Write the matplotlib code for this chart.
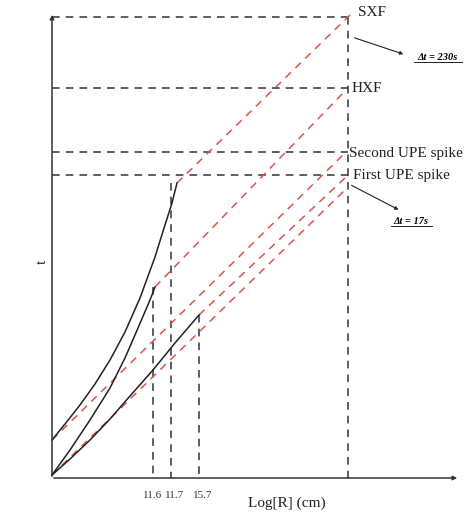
import matplotlib
matplotlib.use("Agg")
import matplotlib.pyplot as plt

plt.rcParams['font.family'] = ['Liberation Serif', 'DejaVu Serif']

# schematic coordinates (picture units)
origin = (52, 478)
x_end = 460
y_top = 12
right_x = 348

level_names = ["SXF", "HXF", "Second UPE spike", "First UPE spike"]
level_y = [17, 88, 152, 175]
level_label_pos = [(358, 12), (352, 88), (349, 153), (353, 176)]

tick_x = [153, 171, 199]
tick_top = [287, 183, 315]
tick_labels = ["11.6", "11.7", "15.7"]

curveA_x = [52, 65, 80, 95, 110, 125, 140, 155, 165, 172, 177]
curveA_y = [440, 424, 405, 384, 360, 332, 298, 257, 225, 203, 183]
curveB_x = [52, 70, 90, 110, 125, 138, 147, 152, 155]
curveB_y = [475, 450, 420, 388, 358, 328, 307, 295, 287]
curveC_x = [52, 70, 90, 110, 130, 153, 175, 199]
curveC_y = [475, 459, 440, 419, 396, 370, 343, 315]

red_start = [(177, 183), (155, 287), (52, 440), (199, 315), (52, 475)]
red_end = [(350, 15), (346, 90), (345, 153), (345, 178), (345, 190)]

fig = plt.figure(figsize=(4.74, 5.15), dpi=100)
ax = fig.add_axes([0, 0, 1, 1])
ax.set_xlim(0, 474)
ax.set_ylim(515, 0)
ax.axis('off')

dash = dict(color='#333333', lw=1.1, dashes=(5, 4))
ax.annotate('', xy=(x_end, origin[1]), xytext=(origin[0] - 1, origin[1]),
            arrowprops=dict(arrowstyle='-|>', color='#333333', lw=1.1, mutation_scale=6))
ax.annotate('', xy=(origin[0], y_top), xytext=(origin[0], origin[1] + 1),
            arrowprops=dict(arrowstyle='-|>', color='#333333', lw=1.1, mutation_scale=6))

for y in level_y:
    ax.plot([origin[0], right_x], [y, y], **dash)
ax.plot([right_x, right_x], [level_y[0], origin[1]], **dash)
for x, t in zip(tick_x, tick_top):
    ax.plot([x, x], [t, origin[1]], **dash)

for (x0, y0), (x1, y1) in zip(red_start, red_end):
    ax.plot([x0, x1], [y0, y1], color='#e05050', lw=1.1, dashes=(5, 4))

for cx, cy in [(curveA_x, curveA_y), (curveB_x, curveB_y), (curveC_x, curveC_y)]:
    ax.plot(cx, cy, color='#222222', lw=1.1)

for name, (x, y) in zip(level_names, level_label_pos):
    ax.text(x, y, name, fontsize=11, ha='left', va='center', color='#222222')

for x, lab in zip(tick_x, tick_labels):
    ax.text(x + (4 if lab != "11.6" else 0), 495, lab, fontsize=8, ha='center', va='center', color='#333333')
ax.text(287, 503, "Log[R] (cm)", fontsize=11, ha='center', va='center', color='#222222')
ax.text(42, 262, "t", fontsize=11, rotation=90, ha='center', va='center', color='#222222')

ax.annotate('', xy=(406, 55), xytext=(352, 37),
            arrowprops=dict(arrowstyle='-|>', color='#222222', lw=0.8, mutation_scale=5))
ax.text(437, 57, "Δt = 230s", fontsize=7.5, style='italic', weight='bold', ha='center', va='center')
ax.plot([414, 462], [62, 62], color='#222222', lw=0.7)
ax.annotate('', xy=(401, 211), xytext=(349, 184),
            arrowprops=dict(arrowstyle='-|>', color='#222222', lw=0.8, mutation_scale=5))
ax.text(411, 221, "Δt = 17s", fontsize=7.5, style='italic', weight='bold', ha='center', va='center')
ax.plot([391, 432], [226, 226], color='#222222', lw=0.7)

fig.savefig("out.png", dpi=100)
